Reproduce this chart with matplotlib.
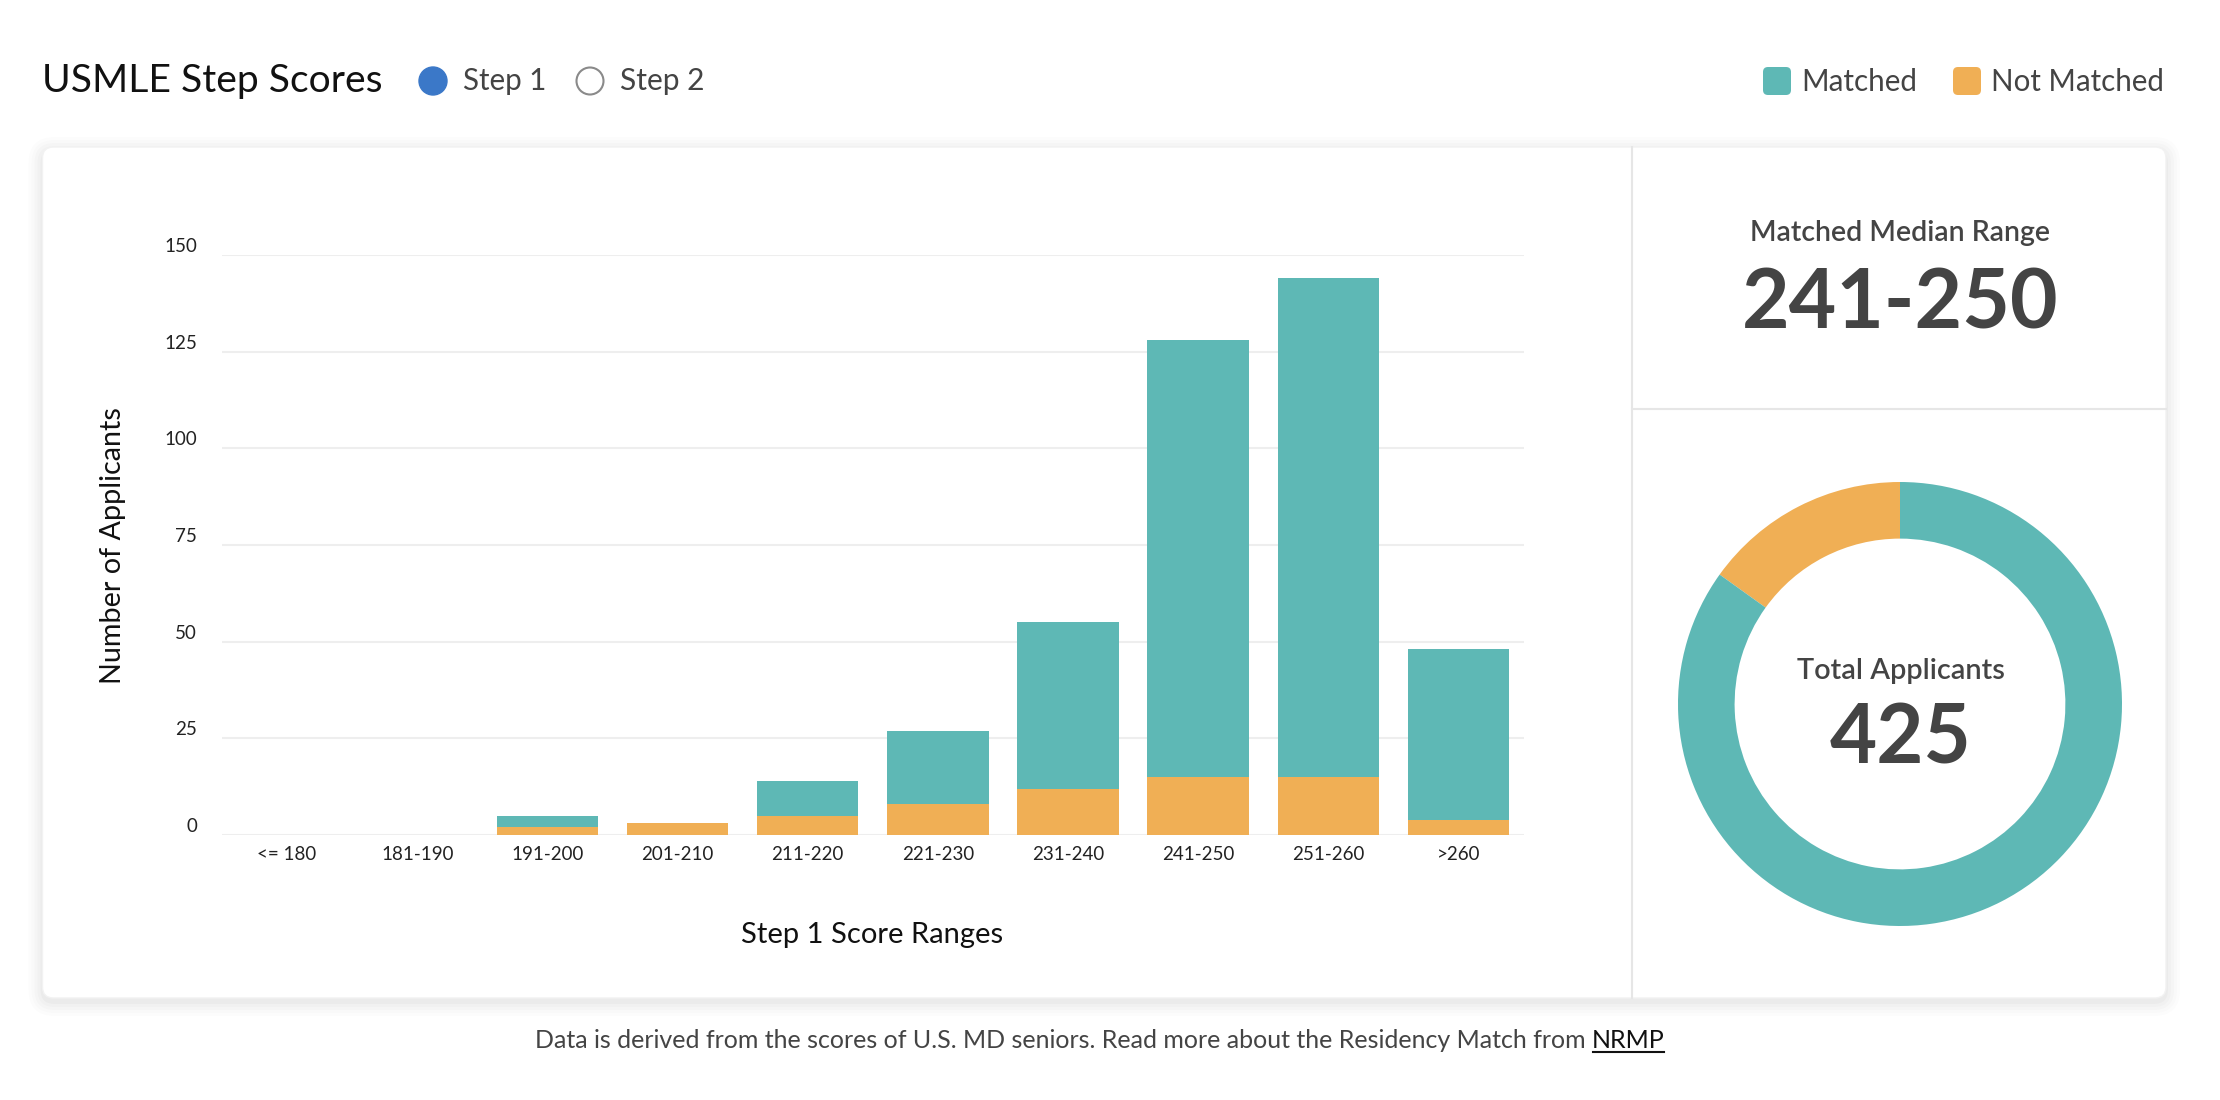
import matplotlib
matplotlib.use("Agg")
import matplotlib.pyplot as plt
from matplotlib.patches import FancyBboxPatch, Circle
import numpy as np

# ---------------- data ----------------
categories = ['<= 180', '181-190', '191-200', '201-210', '211-220',
              '221-230', '231-240', '241-250', '251-260', '>260']
not_matched = [0, 0, 2, 3, 5, 8, 12, 15, 15, 4]
matched = [0, 0, 3, 0, 9, 19, 43, 113, 129, 44]
y_ticks = [0, 25, 50, 75, 100, 125, 150]
median_range = '241-250'
total_applicants = '425'

TEAL = '#5eb8b5'
ORANGE = '#f0af55'
BLUE = '#3b78c8'
DARK = '#444444'

plt.rcParams['font.family'] = ['Lato', 'DejaVu Sans']

W, H = 2220, 1100
fig = plt.figure(figsize=(W / 100, H / 100), dpi=100)
fig.patch.set_facecolor('white')
renderer = fig.canvas.get_renderer()

def fx(px):
    return px / W

def fy(py):
    return 1 - py / H

def fit(t, target, vertical=False):
    bb = t.get_window_extent(renderer)
    size = bb.height if vertical else bb.width
    t.set_fontsize(t.get_fontsize() * target / size)

# overlay axes in pixel coordinates (background layer)
ov = fig.add_axes([0, 0, 1, 1], zorder=0)
ov.set_xlim(0, W)
ov.set_ylim(H, 0)
ov.axis('off')

# card shadow + card
cx0, cy0, cx1, cy1 = 42.5, 147, 2166, 998
for i, a in enumerate([0.010, 0.012, 0.014, 0.017, 0.022]):
    g = 14 - i * 3
    ov.add_patch(FancyBboxPatch((cx0 - g, cy0 - g + 4), (cx1 - cx0) + 2 * g, (cy1 - cy0) + 2 * g,
                                boxstyle="round,pad=0,rounding_size=%d" % (12 + g),
                                fc='black', ec='none', alpha=a))
ov.add_patch(FancyBboxPatch((cx0, cy0), cx1 - cx0, cy1 - cy0,
                            boxstyle="round,pad=0,rounding_size=11",
                            fc='white', ec='#f2f2f2', lw=1))
# dividers
ov.plot([1632, 1632], [cy0, cy1], color='#e6e6e6', lw=1.5)
ov.plot([1632, cx1], [409, 409], color='#e6e6e6', lw=1.5)

# header
t = ov.text(42.5, 81, 'USMLE Step Scores', fontsize=28, color='#111111', va='center', ha='left')
fit(t, 340)
ov.add_patch(Circle((433, 81), 14, fc=BLUE, ec=BLUE))
t = ov.text(463, 81, 'Step 1', fontsize=21, color=DARK, va='center', ha='left')
fit(t, 83.5)
ov.add_patch(Circle((590, 81), 13.5, fc='white', ec='#8a8a8a', lw=1.5))
t = ov.text(620, 81, 'Step 2', fontsize=21, color=DARK, va='center', ha='left')
fit(t, 85)

# legend
ov.add_patch(FancyBboxPatch((1763, 67), 28, 28, boxstyle="round,pad=0,rounding_size=5",
                            fc=TEAL, ec='none'))
t = ov.text(1801, 82, 'Matched', fontsize=21, color=DARK, va='center', ha='left')
fit(t, 116)
ov.add_patch(FancyBboxPatch((1953, 67), 28, 28, boxstyle="round,pad=0,rounding_size=5",
                            fc=ORANGE, ec='none'))
t = ov.text(1991, 82, 'Not Matched', fontsize=21, color=DARK, va='center', ha='left')
fit(t, 173)

# right panel text
t = ov.text(1900, 233, 'Matched Median Range', fontsize=21, color=DARK, va='center', ha='center',
            fontweight='semibold')
fit(t, 300)
t = ov.text(1900, 305, median_range, fontsize=59, color=DARK, va='center', ha='center',
            fontweight='bold')
fit(t, 317)

# axis labels
t = ov.text(113, 546, 'Number of Applicants', fontsize=20, color='#111111', va='center',
            ha='center', rotation=90)
fit(t, 277, vertical=True)
t = ov.text(872, 935, 'Step 1 Score Ranges', fontsize=20, color='#111111', va='center',
            ha='center')
fit(t, 262)

# footer
foot = ov.text(535, 1040, 'Data is derived from the scores of U.S. MD seniors. '
               'Read more about the Residency Match from ',
               fontsize=16, color=DARK, va='center', ha='left')
nr = ov.text(0, 1040, 'NRMP', fontsize=16, color='#111111', va='center', ha='left')
w1 = foot.get_window_extent(renderer).width
w2 = nr.get_window_extent(renderer).width
scale = 1137 / (w1 + w2)
foot.set_fontsize(16 * scale)
nr.set_fontsize(16 * scale)
bb = foot.get_window_extent(renderer)
nr.set_x(535 + bb.width)
bb2 = nr.get_window_extent(renderer)
ov.plot([bb2.x0 + 1, bb2.x1 - 1], [H - bb2.y0, H - bb2.y0], color='#111111', lw=1.5)

# ---------------- bar chart ----------------
px0, px1, py0, py150 = 222, 1523.5, 835, 255
ax = fig.add_axes([fx(px0), fy(py0), fx(px1) - fx(px0), fy(py150) - fy(py0)], zorder=2)
ax.patch.set_alpha(0)
x = np.arange(len(categories))
ax.bar(x, not_matched, width=0.78, color=ORANGE, zorder=3)
ax.bar(x, matched, width=0.78, bottom=not_matched, color=TEAL, zorder=3)
ax.set_xlim(-0.5, len(categories) - 0.5)
ax.set_ylim(0, 150)
ax.set_yticks(y_ticks)
ax.set_yticklabels([str(v) for v in y_ticks], fontsize=13.5, color='#222222')
ax.set_xticks(x)
ax.set_xticklabels(categories, fontsize=13.5, color='#222222')
ax.tick_params(axis='both', length=0)
ax.tick_params(axis='y', pad=18)
ax.tick_params(axis='x', pad=8)
for lab in ax.get_yticklabels():
    lab.set_verticalalignment('bottom')
ax.grid(axis='y', color='#eeeeee', lw=1.5, zorder=0)
for s in ax.spines.values():
    s.set_visible(False)

# ---------------- donut ----------------
dcx, dcy, r = 1900, 704, 222
dax = fig.add_axes([fx(dcx - r), fy(dcy + r), 2 * r / W, 2 * r / H], zorder=2)
dax.pie([sum(not_matched), sum(matched)], colors=[ORANGE, TEAL], startangle=90,
        counterclock=True, radius=1, wedgeprops=dict(width=0.255, edgecolor='none'))
dax.set_xlim(-1, 1)
dax.set_ylim(-1, 1)
dax.set_aspect('equal')
dax.axis('off')
t = ov.text(1901, 671, 'Total Applicants', fontsize=20, color=DARK, ha='center', va='center',
            fontweight='semibold')
fit(t, 207)
t = ov.text(1901, 740, total_applicants, fontsize=60, color=DARK, ha='center', va='center',
            fontweight='bold')
fit(t, 142)

fig.savefig('out.png', dpi=100, facecolor='white')
